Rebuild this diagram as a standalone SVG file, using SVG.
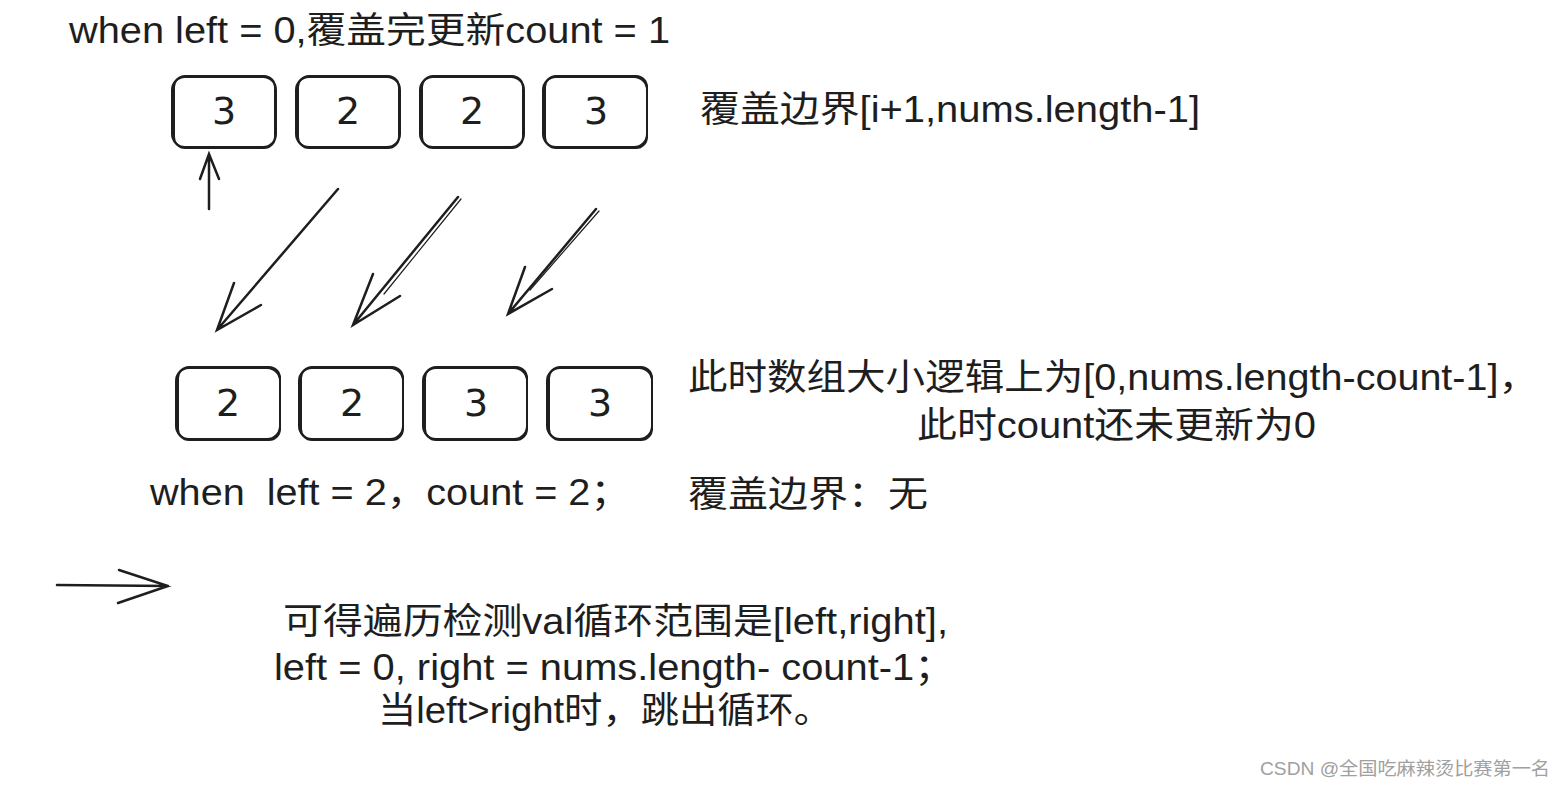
<svg xmlns="http://www.w3.org/2000/svg" width="1564" height="788" viewBox="0 0 1564 788">
<style>
.t{font-family:"Liberation Sans","Noto Sans CJK SC",sans-serif;font-size:36px;fill:#1e1e1e}
.n{font-family:"DejaVu Sans",sans-serif;font-size:38px;fill:#1e1e1e;text-anchor:middle}
.b{fill:none;stroke:#1e1e1e;stroke-width:2}
.a{fill:none;stroke:#1e1e1e;stroke-width:2.5;stroke-linecap:round}
.a2{fill:none;stroke:#1e1e1e;stroke-width:1.2;stroke-linecap:round}
.w{font-family:"Liberation Sans","Noto Sans CJK SC",sans-serif;font-size:18px;fill:#a0a0a0}
</style>
<rect width="1564" height="788" fill="#fff"/>
<text class="t" x="69" y="43" textLength="601" lengthAdjust="spacingAndGlyphs">when left = 0,覆盖完更新count = 1</text>
<g id="top1"><rect class="b" x="172" y="77" width="104" height="70" rx="13"/><rect class="b" x="174" y="76" width="101" height="72" rx="11"/><text class="n" x="224" y="124">3</text></g>
<g id="top2"><rect class="b" x="296" y="77" width="104" height="70" rx="13"/><rect class="b" x="298" y="76" width="101" height="72" rx="11"/><text class="n" x="348" y="124">2</text></g>
<g id="top3"><rect class="b" x="420" y="77" width="104" height="70" rx="13"/><rect class="b" x="422" y="76" width="101" height="72" rx="11"/><text class="n" x="472" y="124">2</text></g>
<g id="top4"><rect class="b" x="543" y="77" width="104" height="70" rx="13"/><rect class="b" x="545" y="76" width="102" height="72" rx="11"/><text class="n" x="596" y="124">3</text></g>
<text class="t" x="700" y="122" textLength="500" lengthAdjust="spacingAndGlyphs">覆盖边界[i+1,nums.length-1]</text>
<g id="bot1"><rect class="b" x="176" y="368" width="104" height="71" rx="13"/><rect class="b" x="178" y="367" width="102" height="73" rx="11"/><text class="n" x="228" y="416">2</text></g>
<g id="bot2"><rect class="b" x="299" y="368" width="104" height="71" rx="13"/><rect class="b" x="301" y="367" width="102" height="73" rx="11"/><text class="n" x="352" y="416">2</text></g>
<g id="bot3"><rect class="b" x="423" y="368" width="104" height="71" rx="13"/><rect class="b" x="425" y="367" width="102" height="73" rx="11"/><text class="n" x="476" y="416">3</text></g>
<g id="bot4"><rect class="b" x="547" y="368" width="105" height="71" rx="13"/><rect class="b" x="549" y="367" width="103" height="73" rx="11"/><text class="n" x="600" y="416">3</text></g>
<g id="connectors">
<path class="a" d="M209 209 L209 154 M200 179 L209 154 L219 179"/>
<path class="a" d="M338 189 L217 330 M234 283 L217 330 L261 305"/>
<path class="a" d="M458 197 L353 325 M373 274 L353 325 L400 296"/>
<path class="a2" d="M461 199 L384 294"/>
<path class="a" d="M596 209 L508 314 M525 267 L508 314 L552 289"/>
<path class="a2" d="M599 211 L530 290"/>
<path class="a" d="M57 585 L168 586 M119 570 L168 586 L118 603"/>
</g>
<text class="t" x="688" y="390" textLength="850" lengthAdjust="spacingAndGlyphs">此时数组大小逻辑上为[0,nums.length-count-1]，</text>
<text class="t" x="917" y="438" textLength="399" lengthAdjust="spacingAndGlyphs">此时count还未更新为0</text>
<text class="t" x="150" y="505" textLength="480" lengthAdjust="spacingAndGlyphs" xml:space="preserve">when  left = 2，count = 2；</text>
<text class="t" x="688" y="507" textLength="240" lengthAdjust="spacingAndGlyphs">覆盖边界：无</text>
<text class="t" x="283" y="634" textLength="665" lengthAdjust="spacingAndGlyphs">可得遍历检测val循环范围是[left,right],</text>
<text class="t" x="274" y="680" textLength="680" lengthAdjust="spacingAndGlyphs">left = 0, right = nums.length- count-1；</text>
<text class="t" x="378" y="723" textLength="454" lengthAdjust="spacingAndGlyphs">当left&gt;right时，跳出循环。</text>
<text class="w" x="1260" y="775" textLength="290" lengthAdjust="spacingAndGlyphs">CSDN @全国吃麻辣烫比赛第一名</text>
</svg>
